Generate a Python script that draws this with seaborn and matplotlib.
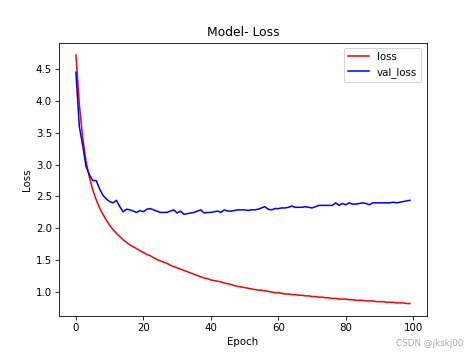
import numpy as np
import pandas as pd
import seaborn as sns
import matplotlib
matplotlib.use('Agg')
import matplotlib.pyplot as plt

# training history
loss = [4.72, 3.95, 3.42, 3.05, 2.80, 2.60, 2.45, 2.32, 2.22, 2.13,
        2.05, 1.98, 1.92, 1.87, 1.82, 1.78, 1.74, 1.71, 1.68, 1.65,
        1.62, 1.59, 1.57, 1.54, 1.51, 1.49, 1.47, 1.45, 1.42, 1.40,
        1.38, 1.36, 1.34, 1.32, 1.30, 1.28, 1.26, 1.24, 1.22, 1.21,
        1.19, 1.18, 1.17, 1.16, 1.14, 1.13, 1.12, 1.10, 1.09, 1.08,
        1.07, 1.06, 1.05, 1.04, 1.03, 1.03, 1.02, 1.01, 1.00, 0.99,
        0.99, 0.98, 0.97, 0.97, 0.96, 0.96, 0.95, 0.95, 0.94, 0.94,
        0.93, 0.93, 0.92, 0.92, 0.91, 0.91, 0.90, 0.90, 0.89, 0.89,
        0.89, 0.88, 0.88, 0.87, 0.87, 0.87, 0.86, 0.86, 0.86, 0.85,
        0.85, 0.85, 0.84, 0.84, 0.84, 0.83, 0.83, 0.83, 0.82, 0.82]

val_loss = [4.45, 3.60, 3.30, 2.97, 2.84, 2.75, 2.75, 2.62, 2.52, 2.46,
            2.42, 2.40, 2.44, 2.34, 2.26, 2.30, 2.29, 2.27, 2.25, 2.28,
            2.26, 2.30, 2.31, 2.29, 2.27, 2.25, 2.25, 2.25, 2.27, 2.29,
            2.24, 2.27, 2.22, 2.23, 2.24, 2.25, 2.27, 2.29, 2.24, 2.25,
            2.25, 2.26, 2.27, 2.25, 2.29, 2.27, 2.27, 2.28, 2.29, 2.29,
            2.29, 2.28, 2.29, 2.29, 2.30, 2.32, 2.34, 2.30, 2.29, 2.31,
            2.31, 2.32, 2.32, 2.33, 2.35, 2.33, 2.33, 2.33, 2.34, 2.33,
            2.32, 2.34, 2.36, 2.36, 2.36, 2.36, 2.36, 2.40, 2.36, 2.39,
            2.37, 2.40, 2.38, 2.38, 2.39, 2.40, 2.39, 2.37, 2.40, 2.40,
            2.40, 2.40, 2.40, 2.40, 2.41, 2.40, 2.41, 2.42, 2.43, 2.44]

epochs = np.arange(len(loss))

hist = pd.DataFrame({'epoch': epochs, 'loss': loss, 'val_loss': val_loss})

# figure
fig, ax = plt.subplots(figsize=(474 / 74, 355 / 74), dpi=74)

sns.lineplot(data=hist, x='epoch', y='loss', color='r', label='loss', ax=ax)
sns.lineplot(data=hist, x='epoch', y='val_loss', color='b', label='val_loss', ax=ax)

ax.set_title('Model- Loss')
ax.set_xlabel('Epoch')
ax.set_ylabel('Loss')
ax.legend(loc='upper right')

# watermark
fig.text(0.977, 0.02, 'CSDN @jkskj00', ha='right', va='bottom',
         fontsize=8.5, color='#a8a8a8')

fig.savefig('out.png', dpi=74)
